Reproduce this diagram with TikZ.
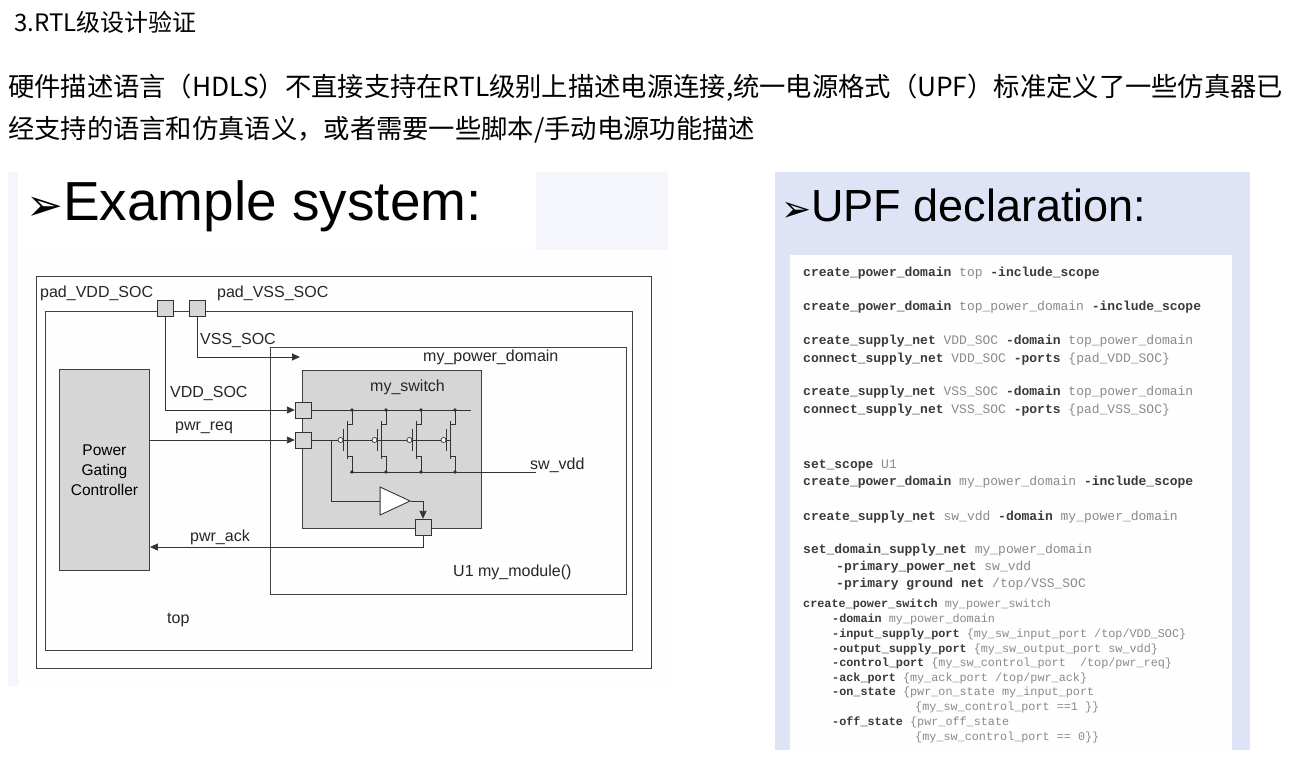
\documentclass[tikz,border=0pt]{standalone}
\usepackage{fontspec}
\setmainfont{Liberation Sans}
\newfontfamily\cjkfont{Noto Sans CJK SC}
\newfontfamily\dejafont{DejaVu Sans}
\newfontfamily\mymono{Liberation Mono}
\usetikzlibrary{arrows.meta,calc,shapes.geometric}
\definecolor{kw}{HTML}{3A3A3A}
\definecolor{ar}{HTML}{8A8A8A}
\definecolor{pnl}{HTML}{DEE4F6}
\definecolor{gbox}{HTML}{D6D6D6}
\tikzset{
  lbl/.style={inner sep=0pt,anchor=west,font=\fontsize{16}{16}\selectfont,text=black!85},
  port/.style={draw=black!80,fill=gbox,minimum size=16pt,inner sep=0pt},
  wire/.style={draw=black!80,line width=0.9pt},
  arr/.style={wire,-{Triangle[length=8pt,width=7pt]}},
  code/.style={inner sep=0pt,anchor=west,font=\mymono\fontsize{13}{13}\selectfont},
  codes/.style={inner sep=0pt,anchor=west,font=\mymono\fontsize{11.8}{11.8}\selectfont},
}
\newcommand{\Kw}[1]{\textcolor{kw}{\bfseries #1}}
\newcommand{\Ar}[1]{\textcolor{ar}{#1}}
\begin{document}
\begin{tikzpicture}[x=1pt,y=-1pt]
\useasboundingbox (0,0) rectangle (1301,756);
\fill[white] (0,0) rectangle (1301,756);
% texts top
\node[inner sep=0pt,anchor=west,font=\cjkfont\fontsize{24}{24}\selectfont] (title) at (14,22) {3.RTL级设计验证};
\node[inner sep=0pt,anchor=west,font=\cjkfont\fontsize{26.3}{26.3}\selectfont] (p1) at (8,88) {硬件描述语言（HDLS）不直接支持在RTL级别上描述电源连接,统一电源格式（UPF）标准定义了一些仿真器已};
\node[inner sep=0pt,anchor=west,font=\cjkfont\fontsize{26.3}{26.3}\selectfont] (p2) at (8,130) {经支持的语言和仿真语义，或者需要一些脚本/手动电源功能描述};
% left panel
\fill[pnl!35] (8,172) rectangle (668,686);
\fill[white] (18,172) rectangle (536,250);
\fill[white!96!pnl] (18,250) rectangle (668,686);
\node[inner sep=0pt,anchor=west,font=\fontsize{55}{55}\selectfont] (t1) at (26,206) {{\dejafont\fontsize{44}{44}\selectfont ➢}Example system:};
% right panel
\fill[pnl] (775,172) rectangle (1250,750);
\fill[white!97!pnl] (790,255) rectangle (1232,750);
\node[inner sep=0pt,anchor=west,font=\fontsize{45}{45}\selectfont] (t2) at (781,205) {{\dejafont\fontsize{36}{36}\selectfont ➢}UPF declaration:};
% diagram boxes
\draw[black!75,line width=0.9pt] (36,276) rectangle (651,668);
\draw[black!75,line width=0.9pt] (45,311) rectangle (632,650);
\draw[black!75,line width=0.9pt,fill=white!96!pnl] (270,347) rectangle (626,594);
\node[draw=black!75,fill=gbox,line width=0.9pt,minimum width=90pt,minimum height=201pt,inner sep=0pt,anchor=north west,align=center,font=\fontsize{15.5}{20}\selectfont] (pgc) at (59,369) {Power\\Gating\\Controller};
\node[draw=black!75,fill=gbox,line width=0.9pt,minimum width=179pt,minimum height=158pt,inner sep=0pt,anchor=north west] (sw) at (302,370) {};
\node[port] (pvdd) at (165,308) {};
\node[port] (pvss) at (197,308) {};
\node[port] (pin) at (303,410) {};
\node[port] (preq) at (303,440) {};
\node[port] (pack) at (423,527) {};
% labels
\node[lbl] (l1) at (40,293) {pad\_VDD\_SOC};
\node[lbl] (l2) at (217,293) {pad\_VSS\_SOC};
\node[lbl] (l3) at (200,340) {VSS\_SOC};
\node[lbl] (l4) at (423,357) {my\_power\_domain};
\node[lbl] (l5) at (170,393) {VDD\_SOC};
\node[lbl] (l6) at (370,387) {my\_switch};
\node[lbl] (l7) at (175,428) {pwr\_req};
\node[lbl] (l8) at (530,465) {sw\_vdd};
\node[lbl] (l9) at (190,537) {pwr\_ack};
\node[lbl] (l10) at (453,572) {U1 my\_module()};
\node[lbl] (l11) at (167,620) {top};
% wires
\coordinate (vssend) at (300,357);
\draw[arr] (pvss.south) |- (vssend);
\draw[arr] (pvdd.south) |- (pin.west);
\draw[arr] (pgc.east |- preq) -- (preq.west);
\draw[arr] (pack.south) |- (pgc.east |- 0,547);
\draw[wire] (pin.east) -- (471,410);
\draw[wire] (350,472) -- (536,472);
\draw[wire] (preq.east) -- (450,440);
% transistors
\foreach \x in {352,386,421,455}{
  \draw[wire,line width=0.7pt] (\x,410) -- (\x,424) -- (\x-5,424);
  \draw[wire,line width=0.7pt] (\x-5,456) -- (\x,456) -- (\x,472);
  \draw[wire,line width=1pt] (\x-5,421) -- (\x-5,459);
  \draw[wire,line width=0.7pt] (\x-9,429) -- (\x-9,451);
  \draw[black!80,fill=white,line width=0.7pt] (\x-11.5,440) circle (2.5);
  \fill[black!80] (\x,410) circle (1.8);
  \fill[black!80] (\x,472) circle (1.8);
}
% buffer
\node[draw=black!80,fill=white,line width=0.9pt,isosceles triangle,isosceles triangle stretches,minimum height=30pt,minimum width=28pt,inner sep=0pt] (buf) at (389,501) {};
\coordinate (fb) at (331,440);
\draw[wire] (fb) |- (buf.west);
\draw[arr] (buf.east) -| (pack.north);
% code
\node[code] (c1) at (803,273) {\Kw{create\_power\_domain} \Ar{top} \Kw{-include\_scope}};
\node[code] (c2) at (803,307) {\Kw{create\_power\_domain} \Ar{top\_power\_domain} \Kw{-include\_scope}};
\node[code] (c3) at (803,341) {\Kw{create\_supply\_net} \Ar{VDD\_SOC} \Kw{-domain} \Ar{top\_power\_domain}};
\node[code] (c4) at (803,359) {\Kw{connect\_supply\_net} \Ar{VDD\_SOC} \Kw{-ports} \Ar{\{pad\_VDD\_SOC\}}};
\node[code] (c5) at (803,392) {\Kw{create\_supply\_net} \Ar{VSS\_SOC} \Kw{-domain} \Ar{top\_power\_domain}};
\node[code] (c6) at (803,410) {\Kw{connect\_supply\_net} \Ar{VSS\_SOC} \Kw{-ports} \Ar{\{pad\_VSS\_SOC\}}};
\node[code] (c7) at (803,466) {\Kw{set\_scope} \Ar{U1}};
\node[code] (c8) at (803,482) {\Kw{create\_power\_domain} \Ar{my\_power\_domain} \Kw{-include\_scope}};
\node[code] (c9) at (803,517) {\Kw{create\_supply\_net} \Ar{sw\_vdd} \Kw{-domain} \Ar{my\_power\_domain}};
\node[code] (c10) at (803,550) {\Kw{set\_domain\_supply\_net} \Ar{my\_power\_domain}};
\node[code] (c11) at (836,567) {\Kw{-primary\_power\_net} \Ar{sw\_vdd}};
\node[code] (c12) at (836,584) {\Kw{-primary ground net} \Ar{/top/VSS\_SOC}};
\node[codes] (d1) at (803,604) {\Kw{create\_power\_switch} \Ar{my\_power\_switch}};
\node[codes] (d2) at (832,619) {\Kw{-domain} \Ar{my\_power\_domain}};
\node[codes] (d3) at (832,634) {\Kw{-input\_supply\_port} \Ar{\{my\_sw\_input\_port /top/VDD\_SOC\}}};
\node[codes] (d4) at (832,649) {\Kw{-output\_supply\_port} \Ar{\{my\_sw\_output\_port sw\_vdd\}}};
\node[codes] (d5) at (832,663) {\Kw{-control\_port} \Ar{\{my\_sw\_control\_port \ /top/pwr\_req\}}};
\node[codes] (d6) at (832,678) {\Kw{-ack\_port} \Ar{\{my\_ack\_port /top/pwr\_ack\}}};
\node[codes] (d7) at (832,692) {\Kw{-on\_state} \Ar{\{pwr\_on\_state my\_input\_port}};
\node[codes] (d8) at (915,707) {\Ar{\{my\_sw\_control\_port ==1 \}\}}};
\node[codes] (d9) at (832,722) {\Kw{-off\_state} \Ar{\{pwr\_off\_state}};
\node[codes] (d10) at (915,737) {\Ar{\{my\_sw\_control\_port == 0\}\}}};
\end{tikzpicture}
\end{document}
